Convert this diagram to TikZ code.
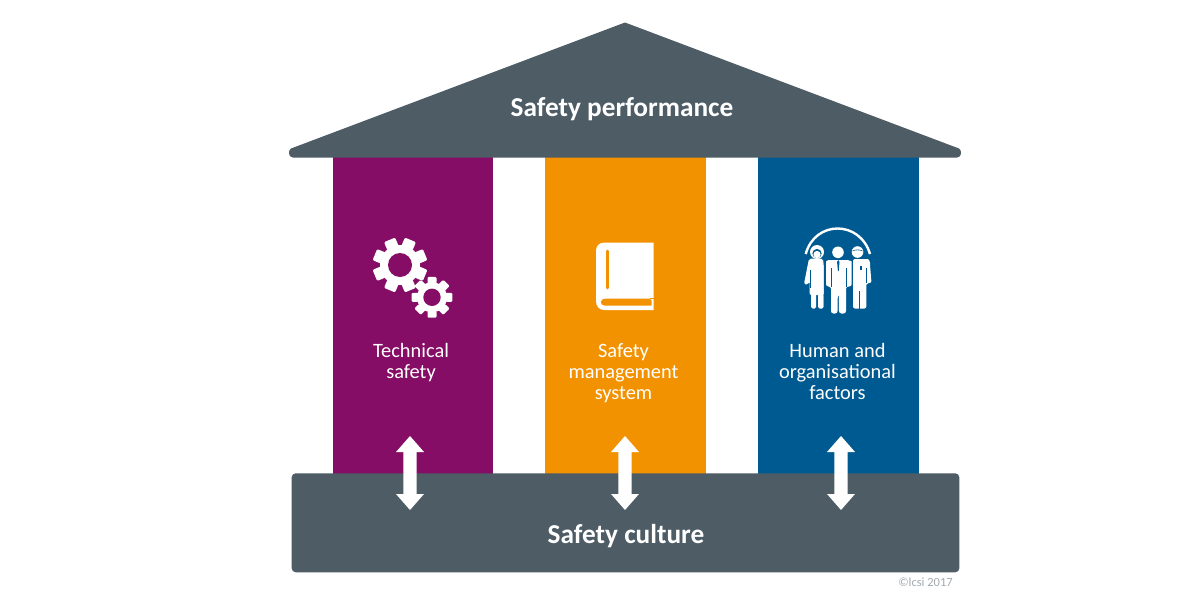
\documentclass[tikz,border=0pt]{standalone}
\usepackage{fontspec}
\setmainfont{Carlito}
\definecolor{slate}{HTML}{4E5C66}
\definecolor{plum}{HTML}{860D66}
\definecolor{amber}{HTML}{F39200}
\definecolor{navy}{HTML}{005A92}
\definecolor{fineprint}{HTML}{A3ABB1}
\tikzset{
  pillar/.style={fill=#1,draw=none},
  pillartext/.style={text=white,align=center,font=\fontsize{20.4}{21}\selectfont,inner sep=0pt},
  headtext/.style={text=white,font=\fontsize{27.3}{30}\selectfont\bfseries,inner sep=0pt},
}
\newcommand{\gearicon}[5]{%
  \begin{scope}[shift={(#1,#2)}]
    \fill[white] (0,0) circle (#3);
    \foreach \a in {0,45,...,315}
      \fill[white,rotate=\a+#5,rounded corners=1.2pt] (-#3*0.30,-#3*0.9) rectangle (#3*0.30,-#3*1.36);
    \fill[plum] (0,0) circle (#4);
  \end{scope}}
\newcommand{\dblarrow}[1]{%
  \fill[white] (#1,436) -- (#1+14,452) -- (#1+6.7,452) -- (#1+6.7,494) -- (#1+14,494) -- (#1,510) -- (#1-14,494) -- (#1-6.7,494) -- (#1-6.7,452) -- (#1-14,452) -- cycle;}
\begin{document}
\begin{tikzpicture}[x=1pt,y=-1pt]
\useasboundingbox (0,0) rectangle (1200,600);
\fill[white] (0,0) rectangle (1200,600);
% pillars
\fill[pillar=plum] (332.5,156) rectangle (493,474);
\fill[pillar=amber] (545,156) rectangle (706,474);
\fill[pillar=navy] (757.5,156) rectangle (918.5,474);
% roof
\fill[slate] (625,22.5) -- (959,148.5) .. controls (962,150) and (962,157.5) .. (957,157.5) -- (293,157.5) .. controls (288,157.5) and (288,150) .. (291,148.5) -- cycle;
% base
\fill[slate,rounded corners=4pt] (291.7,473.3) rectangle (959.3,572.3);
% texts
\node[headtext] (roof) at (622,109.5) {Safety performance};
\node[headtext] (base) at (626,536.5) {Safety culture};
\node[pillartext] (t1) at (411,362.5) {Technical\\safety};
\node[pillartext] (t2) at (623.5,373) {Safety\\management\\system};
\node[pillartext] (t3) at (837.5,371) {Human and\\organisational\\factors};
\node[text=fineprint,font=\fontsize{12.5}{14}\selectfont,inner sep=0pt] (c) at (925.5,582) {©lcsi 2017};
% arrows
\dblarrow{410}
\dblarrow{625}
\dblarrow{841}
% gears
\gearicon{400}{265}{20}{12}{22.5}
\fill[plum] (432,297.3) circle (18.5);
\gearicon{432}{297.3}{15}{8.7}{0}
% book
\fill[white] (653.5,242.7) -- (604,242.7) .. controls (599,242.7) and (596,246) .. (596,251) -- (596,301) .. controls (596,306) and (599,310) .. (604,310) -- (653.5,310) -- cycle;
\draw[amber,line width=2.6pt,line cap=round] (607.7,251) -- (607.7,288);
\fill[amber] (606,298.7) .. controls (599,298.7) and (599,305.7) .. (606,305.7) -- (651.5,305.7) -- (651.5,300.5) -- (650,298.7) -- cycle;
\fill[amber] (650,297.6) rectangle (653.6,298.7);
% people: arc
\draw[white,line width=2.4pt] (805.7,254) .. controls (815,220) and (860,220) .. (870,254);
% woman
\fill[white] (817,252) circle (7);
\fill[navy] (817,253.5) circle (4.6);
\fill[white] (817,254.5) circle (3.6);
\fill[white,rounded corners=2pt] (809,258.5) -- (823,258.5) -- (824.5,272) -- (824.5,295) -- (809.5,295) -- (809.5,281) -- (808,285) -- (804,284) -- cycle;
\fill[navy] (810.3,270) -- (811,270) -- (811,288) -- (810.3,288) -- cycle;
\fill[white,rounded corners=1.5pt] (811,294) rectangle (816,308.5);
\fill[white,rounded corners=1.5pt] (818,294) rectangle (823.5,308.5);
% man right
\fill[white] (857.5,252) circle (5.8);
\draw[navy,line width=.6pt] (852.5,251) .. controls (855,249.5) and (860,249.5) .. (862.5,251);
\fill[white,rounded corners=2pt] (853,259) -- (866,259) .. controls (869,259) and (870,262) .. (870,265) -- (871.5,283) -- (866.5,283) -- (866.3,284) -- (866.3,308.5) -- (853,308.5) -- cycle;
\fill[navy] (859.2,291) rectangle (860.2,309);
\fill[navy] (859.6,266) rectangle (862.4,270);
\fill[navy] (866.2,268) rectangle (866.9,283);
% centre man
\fill[navy,rounded corners=3pt] (823.8,257.5) rectangle (852.8,315);
\fill[white] (838,252.3) circle (5.8);
\fill[white,rounded corners=2.5pt] (826,286.5) -- (826,264) .. controls (826,261) and (829,260) .. (831,260) -- (845,260) .. controls (847,260) and (851.7,261) .. (851.7,264) -- (851.7,286.5) -- (846,286.5) -- (846,313.5) -- (839,313.5) -- (838.8,294) -- (837.8,294) -- (837.5,313.5) -- (831,313.5) -- (831,286.5) -- cycle;
\fill[navy] (830.6,268) rectangle (831.4,287);
\fill[navy] (845.9,268) rectangle (846.7,287);
\fill[navy] (838.2,260) -- (837.1,262) -- (837.9,271) -- (838.7,271) -- (839.5,262) -- cycle;
\end{tikzpicture}
\end{document}
